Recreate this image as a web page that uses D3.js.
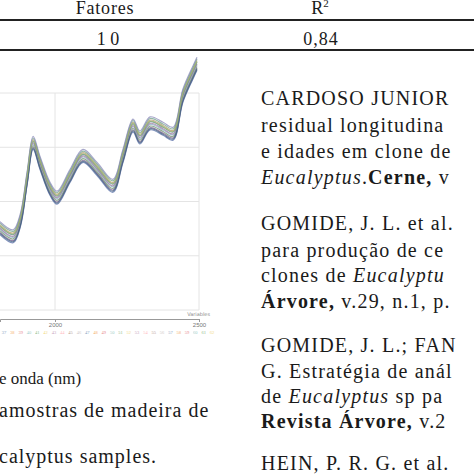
<!DOCTYPE html>
<html><head><meta charset="utf-8">
<script src="https://cdn.jsdelivr.net/npm/d3@7"></script>
<style>body{margin:0;background:#fff}svg{display:block}</style>
</head><body>
<svg id="c" width="474" height="474"></svg>
<script>
// wavelength (nm) and mean absorbance
const wavelength = [1809, 1855, 1879, 1903, 1924, 1948, 1983, 2007, 2052, 2097, 2146, 2201, 2236, 2271, 2295, 2330, 2375, 2410, 2444, 2479, 2493];
const absorb = [0.351, 0.336, 0.364, 0.442, 0.508, 0.471, 0.423, 0.407, 0.447, 0.484, 0.460, 0.429, 0.484, 0.540, 0.518, 0.544, 0.534, 0.525, 0.595, 0.638, 0.654];
// per-sample offsets for the spectra bundle
const sampleOffsets = [-0.012, -0.008, -0.005, -0.002, 0, 0.003, 0.006, 0.009, 0.012, -0.01, 0.004];
const sampleColors = ["#5a6fa8", "#7a5c8c", "#6b8f6b", "#8fb0c8", "#9c7a9c", "#4e7f8f", "#b59a6a", "#6fa08a", "#8a8ab8", "#3f5f7f", "#a0b870"];
const yTicks = [0.2, 0.3, 0.4, 0.5, 0.6];
const xTicks = [2000, 2500];
const varLabels = ["37","38","39","40","41","42","43","44","45","46","47","48","49","50","51","52","53","54","55","56","57","58","59","60","61","62"];

const svg = d3.select("#c");
const x = d3.scaleLinear().domain([1809, 2500]).range([0, 199]);
const y = d3.scaleLinear().domain([0.2, 0.6]).range([310, 93]);

svg.append("g").selectAll("line").data(yTicks).join("line")
  .attr("x1", 0).attr("x2", 199).attr("y1", d => y(d)).attr("y2", d => y(d))
  .attr("stroke", "#e4e4e4");
svg.append("g").selectAll("line").data(xTicks).join("line")
  .attr("x1", d => x(d)).attr("x2", d => x(d)).attr("y1", 93).attr("y2", 310)
  .attr("stroke", "#e4e4e4");

const line = d3.line().curve(d3.curveCatmullRom);
sampleOffsets.forEach((o, i) => {
  svg.append("path")
    .attr("d", line(wavelength.map((w, j) => [x(w), y(absorb[j] + o)])))
    .attr("fill", "none").attr("stroke", sampleColors[i]).attr("stroke-width", 1.2).attr("opacity", 0.75);
});

const ax = svg.append("g").attr("transform", "translate(0,319)")
  .call(d3.axisBottom(x).tickValues(xTicks).tickSize(3).tickFormat(d3.format("d")));
ax.select(".domain").attr("stroke", "#999");
ax.selectAll("line").attr("stroke", "#999");
ax.selectAll("text").attr("font-size", 6).attr("fill", "#777").attr("dy", "0.3em");
svg.append("text").attr("x", 210).attr("y", 316).attr("text-anchor", "end")
  .attr("font-size", 5).attr("fill", "#888").attr("font-family", "DejaVu Sans").text("Variables");
const lx = d3.scalePoint().domain(varLabels).range([4, 212]);
svg.append("g").selectAll("text").data(varLabels).join("text")
  .attr("x", d => lx(d)).attr("y", 334).attr("font-size", 4.5).attr("text-anchor", "middle")
  .attr("fill", (d, i) => d3.schemeTableau10[i % 10]).attr("opacity", 0.7).text(d => d);

// surrounding page text
const serif = "'Liberation Serif', 'Times New Roman', serif";
const t = (xp, yp, s, size, anchor, ls) => svg.append("text").attr("x", xp).attr("y", yp)
  .style("font-family", serif).attr("font-size", size || 17).attr("fill", "#1a1a1a")
  .attr("letter-spacing", ls || 0)
  .attr("text-anchor", anchor || "start").html(s);

t(105, 14, "Fatores", 18, "middle", 0.8);
t(320, 14, "R<tspan dy='-7' font-size='11'>2</tspan>", 18, "middle");
t(108, 45, "1 0", 18, "middle");
t(321, 45, "0,84", 18, "middle", 1);
svg.append("line").attr("x1", 0).attr("x2", 474).attr("y1", 20).attr("y2", 20).attr("stroke", "#222").attr("stroke-width", 2);
svg.append("line").attr("x1", 0).attr("x2", 474).attr("y1", 50).attr("y2", 50).attr("stroke", "#222").attr("stroke-width", 2);

t(-1, 384, "e onda (nm)", 17);
t(-1, 417, "amostras de madeira de", 20, "start", 1);
t(-1, 463, "calyptus samples.", 20, "start", 1);

const refs = [
  [105, "CARDOSO JUNIOR"], [132, "residual longitudina"], [158, "e idades em clone de"],
  [184, "<tspan font-style='italic'>Eucalyptus</tspan>.<tspan font-weight='bold'>Cerne,</tspan> v"],
  [230, "GOMIDE, J. L. et al."], [257, "para produção de ce"],
  [282, "clones de <tspan font-style='italic'>Eucalyptu</tspan>"],
  [308, "<tspan font-weight='bold'>Árvore,</tspan> v.29, n.1, p."],
  [352, "GOMIDE, J. L.; FAN"], [378, "G. Estratégia de anál"],
  [403, "de <tspan font-style='italic'>Eucalyptus</tspan> sp pa"],
  [428, "<tspan font-weight='bold'>Revista Árvore,</tspan> v.2"],
  [470, "HEIN, P. R. G. et al."]
];
refs.forEach(r => t(261, r[0], r[1], 20, "start", 1.2));
</script>
</body></html>
